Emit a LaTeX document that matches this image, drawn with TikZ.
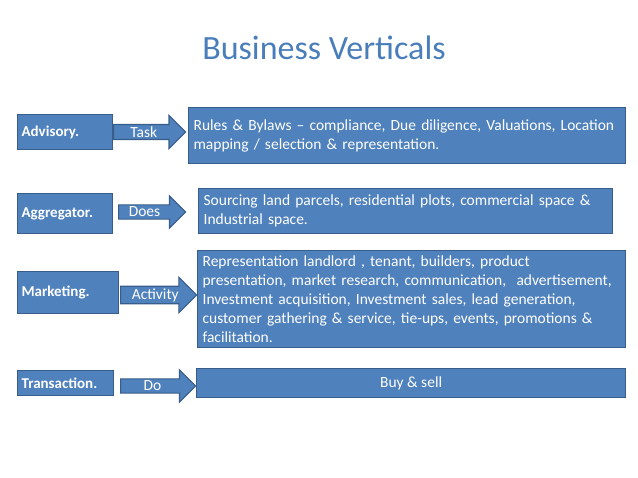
\documentclass[tikz,border=0pt]{standalone}
\usepackage{fontspec}
\setmainfont{Carlito}
\usetikzlibrary{shapes.arrows}
\definecolor{bfill}{HTML}{4F81BD}
\definecolor{bline}{HTML}{385D8A}
\definecolor{tblue}{HTML}{4A7EBB}
\begin{document}
\begin{tikzpicture}[x=1pt,y=-1pt,
  box/.style={draw=bline,line width=1.2pt,fill=bfill,text=white,font=\fontsize{15.5}{19}\selectfont,inner sep=5pt,anchor=north west,align=left},
  lbl/.style={box,font=\bfseries\fontsize{15}{18}\selectfont,inner sep=4pt,text width=#1,align=left},
  arr/.style={single arrow,draw=bline,line width=1.2pt,fill=bfill,text=white,font=\fontsize{15.5}{18}\selectfont,inner sep=1.5pt,single arrow head extend=9pt,single arrow tip angle=90,minimum height=#1,anchor=west}]
\useasboundingbox (0,0) rectangle (638,478);
\node (title) at (324,48) {\fontsize{34}{40}\selectfont\color{tblue}Business Verticals};
\node[lbl=87pt,minimum height=35pt] (a1) at (17,114) {Advisory.};
\node[box,text width=427pt,minimum height=56pt] (b1) at (188,107) {Rules \& Bylaws – compliance, Due diligence, Valuations, Location\\mapping / selection \& representation.};
\node[arr=72pt] (t1) at (113,132) {\hspace*{6pt}Task\hspace*{10pt}};
\node[lbl=87pt,minimum height=40pt] (a2) at (17,193) {Aggregator.};
\node[box,text width=404pt,minimum height=45pt] (b2) at (198,188) {Sourcing land parcels, residential plots, commercial space \&\\Industrial space.};
\node[arr=67pt] (t2) at (118,212) {\hspace*{2pt}Does\hspace*{10pt}};
\node[lbl=93pt,minimum height=42pt] (a3) at (17,271) {Marketing.};
\node[box,text width=418pt,minimum height=95pt] (b3) at (197,250) {Representation landlord , tenant, builders, product\\presentation, market research, communication,\ \ advertisement,\\Investment acquisition, Investment sales, lead generation,\\customer gathering \& service, tie-ups, events, promotions \&\\facilitation.};
\node[arr=76pt] (t3) at (120,295) {\hspace*{2pt}Activity\hspace*{0pt}};
\node[lbl=88pt,minimum height=25pt] (a4) at (17,370) {Transaction.};
\node[box,minimum width=429pt,minimum height=29pt,align=center] (b4) at (196,368) {Buy \& sell};
\node[arr=75pt] (t4) at (120,386) {\hspace*{18pt}Do\hspace*{22pt}};
\end{tikzpicture}
\end{document}
